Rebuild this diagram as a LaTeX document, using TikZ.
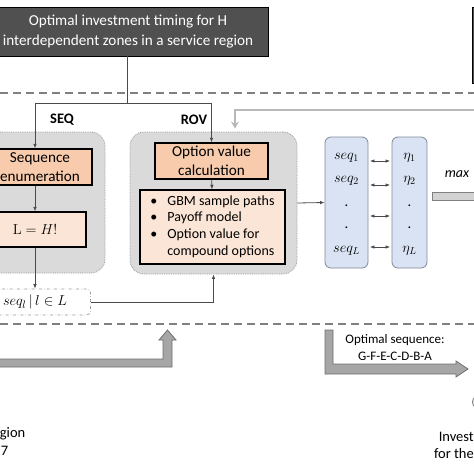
\documentclass[tikz,border=0pt]{standalone}
\usepackage{amsmath,amssymb}
\usepackage[no-math]{fontspec}
\setmainfont{Carlito}
\usetikzlibrary{arrows.meta,positioning,calc}
\definecolor{darkfill}{HTML}{505050}
\definecolor{regionfill}{HTML}{DADADA}
\definecolor{regionedge}{HTML}{9A9A9A}
\definecolor{stepfill}{HTML}{F8CBAD}
\definecolor{subfill}{HTML}{FBE5D6}
\definecolor{colfill}{HTML}{DAE3F3}
\definecolor{coledge}{HTML}{7F8A9A}
\definecolor{sepgray}{HTML}{808080}
\definecolor{linkgray}{HTML}{4A4A4A}
\definecolor{blockfill}{HTML}{A6A6A6}
\definecolor{blockedge}{HTML}{6E6E6E}

\tikzset{
  darkbox/.style={draw=black, fill=darkfill, text=white, line width=0.8pt, inner sep=0pt},
  region/.style={draw=regionedge, fill=regionfill, densely dotted, rounded corners=14pt, line width=0.8pt, inner sep=0pt},
  stepbox/.style={draw=black, fill=stepfill, line width=1.2pt, align=center, inner sep=0pt, font=\fontsize{15.2}{19}\selectfont},
  subbox/.style={draw=black, fill=subfill, line width=1.2pt, inner sep=0pt},
  setbox/.style={draw=regionedge, fill=white, dash dot, rounded corners=4pt, line width=0.7pt, inner sep=0pt},
  colbox/.style={draw=coledge, fill=colfill, rounded corners=6pt, line width=0.8pt, inner sep=0pt},
  sepline/.style={draw=sepgray, line width=1.4pt, dash pattern=on 8pt off 5pt},
  link/.style={draw=linkgray, line width=0.8pt},
  feedback/.style={draw=gray!55, line width=2pt, -{Stealth[length=7pt,width=8pt]}},
  blockarrow/.style={fill=blockfill, draw=blockedge, line width=0.8pt},
  maxbar/.style={fill=gray!35, draw=sepgray, line width=0.8pt, inner sep=0pt},
}

\begin{document}
\begin{tikzpicture}[x=1pt,y=-1pt,>={Latex[length=4.5pt,width=3.5pt]},
    font=\fontsize{14.5}{17}\selectfont]
  \useasboundingbox (0,0) rectangle (474,474);
  % separators
  \draw[sepline] (0,93) -- (474,93);
  \draw[sepline] (0,324) -- (474,324);
  % problem statement
  \node[darkbox, minimum width=280, minimum height=49, align=center,
    font=\fontsize{15.2}{20}\selectfont] (goal) at (128,31.5)
    {Optimal investment timing for H\\interdependent zones in a service region};
  \node[darkbox, minimum width=40, minimum height=76] (nextstage) at (492,45) {};
  % method regions
  \node[region, minimum width=135, minimum height=141] (seqreg) at (37.5,202.5) {};
  \node[region, minimum width=167, minimum height=142] (rovreg) at (213.5,203) {};
  \node[font=\bfseries\fontsize{14.5}{17}\selectfont] (seqlab) at (62,120) {SEQ};
  \node[font=\bfseries\fontsize{14.5}{17}\selectfont] (rovlab) at (194,120) {ROV};
  % SEQ steps
  \node[stepbox, minimum width=104, minimum height=36] (seqenum) at (40,167) {Sequence\\enumeration};
  \node[subbox, minimum width=102, minimum height=35, font=\fontsize{15.5}{18}\selectfont] (count) at (35,229.5) {$\mathrm{L}=H!$};
  \node[setbox, minimum width=111, minimum height=26, font=\fontsize{15}{17}\selectfont] (seqset) at (35,302) {$seq_l\,|\,l\in L$};
  % ROV steps
  \node[stepbox, minimum width=113, minimum height=36] (optval) at (211.5,161) {Option value\\calculation};
  \node[subbox, minimum width=145, minimum height=74, font=\fontsize{14}{16.8}\selectfont] (models) at (212.5,227)
    {\begin{tabular}{@{}l@{\hspace{10pt}}l@{}}
      \textbullet & GBM sample paths\\
      \textbullet & Payoff model\\
      \textbullet & Option value for\\
                  & compound options
    \end{tabular}};
  % sequences and values
  \node[colbox, minimum width=43, minimum height=131] (seqcol) at (346.5,202.5) {};
  \node[colbox, minimum width=35, minimum height=131] (etacol) at (409.5,202.5) {};
  \foreach \yy/\sq/\et [count=\i] in {158/$seq_1$/$\eta_1$, 181/$seq_2$/$\eta_2$, 206/./., 228/./., 251/$seq_L$/$\eta_L$}{
    \node[font=\fontsize{14.5}{16}\selectfont] (s\i) at (346.5,\yy) {\sq};
    \node[font=\fontsize{14.5}{16}\selectfont] (e\i) at (409.5,\yy) {\et};
  }
  \foreach \yy in {161,185,216,247}
    \draw[link,<->,shorten <=1.5pt,shorten >=1.5pt] (seqcol.east |- 0,\yy) -- (etacol.west |- 0,\yy);
  % max
  \node[font=\itshape\fontsize{14}{16}\selectfont] (maxlab) at (457,174) {max};
  \node[maxbar, minimum width=50, minimum height=8, anchor=west] (maxshaft) at (432,196) {};
  % connectors
  \coordinate (split) at (127,103);
  \draw[link] (goal.south -| split) -- (split);
  \draw[link,->] (split) -| (count.north |- seqenum.north);
  \draw[link,->] (split) -| (optval.north);
  \draw[link,->] (count |- seqenum.south) -- (count.north);
  \draw[link,->] (count) -- (seqset);
  \draw[link,->] (seqset.east) -| (rovreg.south);
  \draw[link,->] (optval) -- (models);
  \draw[link,->] (rovreg.east) -- (seqcol.west);
  % feedback from the next stage
  \coordinate (fbin) at (480,110);
  \draw[feedback, shorten >=3pt] (fbin) -| ([xshift=21.5pt]rovreg.north);
  % block arrows
  \draw[blockarrow] (-5,359) -- (163,359) -- (163,340) -- (159,340) -- (167.5,330)
    -- (176,340) -- (172,340) -- (172,367) -- (-5,367) -- cycle;
  \draw[blockarrow] (325,330) -- (333,330) -- (333,364) -- (456,364) -- (456,361)
    -- (468,369) -- (456,377) -- (456,374) -- (325,374) -- cycle;
  \node[align=center, font=\fontsize{13}{17}\selectfont] (optseq) at (395,347.5) {Optimal sequence:\\G-F-E-C-D-B-A};
  % cut-off parts
  \draw[sepgray, fill=gray!20, line width=0.8pt] (479,402) circle (6.5);
  \node[anchor=east, inner sep=0pt] (leftlab) at (25.5,434) {gion};
  \node[anchor=east, inner sep=0pt] (leftnum) at (8.5,451) {7};
  \node[anchor=east, align=right, inner sep=0pt] (rightlab) at (474,445) {Invest\\for the};
\end{tikzpicture}
\end{document}
